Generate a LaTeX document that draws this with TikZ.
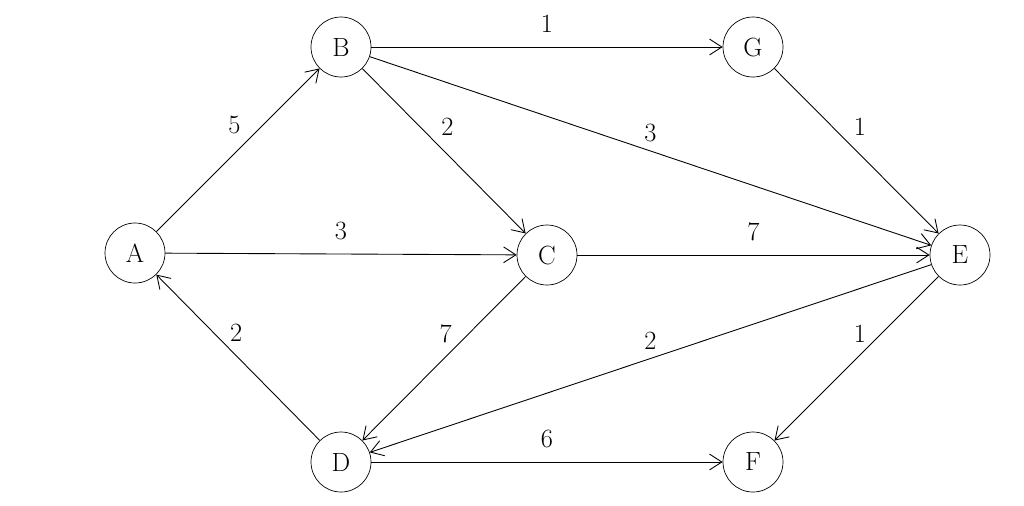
\documentclass[tikz,border=0pt]{standalone}
\usetikzlibrary{arrows.meta}
\begin{document}
\begin{tikzpicture}[x=0.02cm,y=-0.02cm,
  vtx/.style={circle,draw,minimum size=1.2cm,inner sep=0pt,font=\fontsize{15}{17}\selectfont},
  arc/.style={draw,line width=0.5pt,-{Straight Barb[length=7pt,width=9pt]}},
  wt/.style={midway,yshift=13pt,font=\fontsize{15}{17}\selectfont,inner sep=0pt}]
\useasboundingbox (0,0) rectangle (1024,505);
\node[vtx] (A) at (135,253) {A};
\node[vtx] (B) at (341,47) {B};
\node[vtx] (G) at (753,47) {G};
\node[vtx] (C) at (547,255) {C};
\node[vtx] (E) at (960,255) {E};
\node[vtx] (D) at (341,462) {D};
\node[vtx] (F) at (753,462) {F};
\draw[arc] (A) -- (B) node[wt,xshift=-2pt,yshift=1pt]{5};
\draw[arc] (B) -- (G) node[wt]{1};
\draw[arc] (B) -- (C) node[wt,xshift=2pt,yshift=1pt]{2};
\draw[arc] (B) -- (E) node[wt,yshift=-3pt]{3};
\draw[arc] (G) -- (E) node[wt,xshift=2pt,yshift=1pt]{1};
\draw[arc] (A) -- (C) node[wt]{3};
\draw[arc] (C) -- (E) node[wt]{7};
\draw[arc] (C) -- (D) node[wt,xshift=1pt,yshift=1pt]{7};
\draw[arc] (E) -- (D) node[wt,yshift=-3pt]{2};
\draw[arc] (D) -- (A) node[wt,xshift=-1pt,yshift=1pt]{2};
\draw[arc] (D) -- (F) node[wt]{6};
\draw[arc] (E) -- (F) node[wt,xshift=2pt,yshift=1pt]{1};
\end{tikzpicture}
\end{document}
